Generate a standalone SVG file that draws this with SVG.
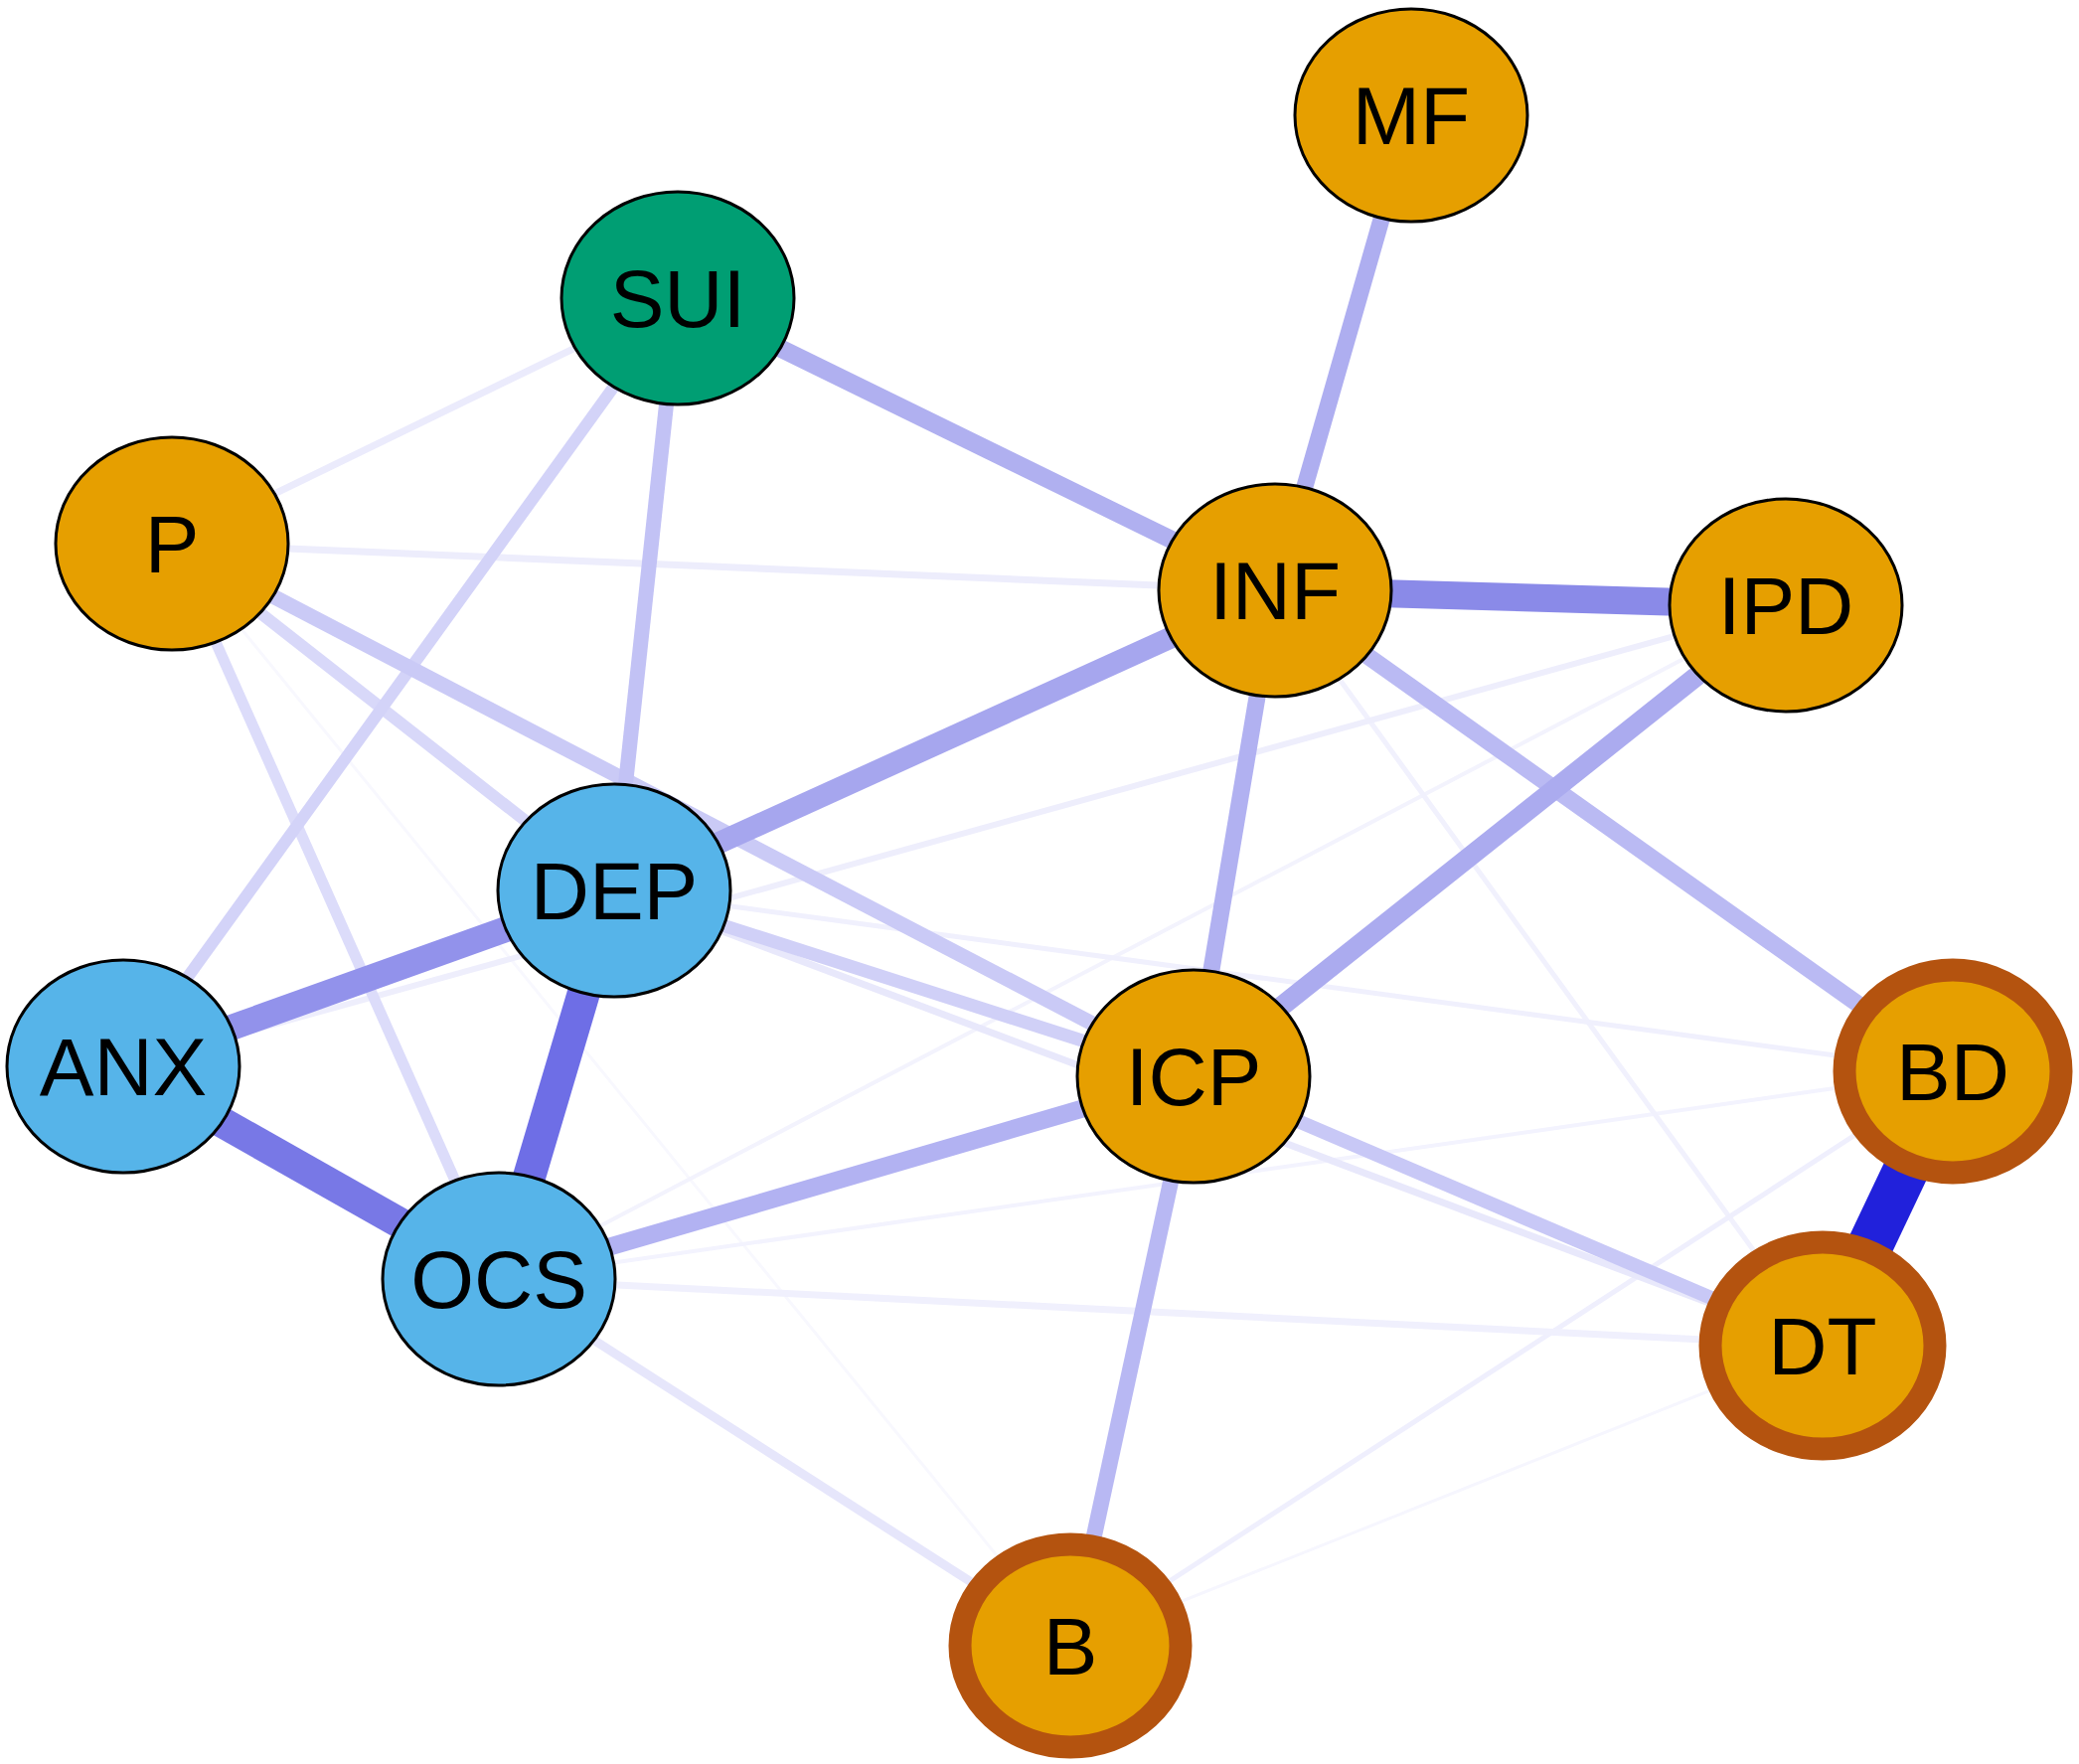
<svg xmlns="http://www.w3.org/2000/svg" width="2092" height="1775" viewBox="0 0 2092 1775">
<style>
.e{fill:none;stroke-linecap:butt}
.n{stroke:#000;stroke-width:3}
.t{font-family:"Liberation Sans",Arial,Helvetica,sans-serif;font-size:82px;fill:#000;text-anchor:middle}
.o{fill:#E69F00}
.g{fill:#009E73}
.b{fill:#56B4E9}
.r{fill:#E69F00;stroke:#B4530F;stroke-width:23}
</style>
<rect width="2092" height="1775" fill="#fff"/>
<g id="edges">
<line class="e" x1="173" y1="547" x2="1077" y2="1656" stroke="#F8F8FE" stroke-width="3"/>
<line class="e" x1="1077" y1="1656" x2="1834" y2="1354" stroke="#F6F6FE" stroke-width="3"/>
<line class="e" x1="502" y1="1287" x2="1965" y2="1078" stroke="#F3F3FE" stroke-width="4"/>
<line class="e" x1="1797" y1="609" x2="502" y2="1287" stroke="#F3F3FD" stroke-width="4"/>
<line class="e" x1="1283" y1="594" x2="1834" y2="1354" stroke="#F1F1FD" stroke-width="5"/>
<line class="e" x1="1077" y1="1656" x2="1965" y2="1078" stroke="#EFEFFD" stroke-width="5"/>
<line class="e" x1="502" y1="1287" x2="1834" y2="1354" stroke="#F0F0FD" stroke-width="7"/>
<line class="e" x1="618" y1="896" x2="1965" y2="1078" stroke="#F0F0FD" stroke-width="5"/>
<line class="e" x1="124" y1="1073" x2="1797" y2="609" stroke="#EEEEFC" stroke-width="6"/>
<line class="e" x1="618" y1="896" x2="1834" y2="1354" stroke="#E8E8FB" stroke-width="7"/>
<line class="e" x1="173" y1="547" x2="1283" y2="594" stroke="#EDEDFC" stroke-width="7"/>
<line class="e" x1="682" y1="300" x2="173" y2="547" stroke="#EBEBFC" stroke-width="7"/>
<line class="e" x1="502" y1="1287" x2="1077" y2="1656" stroke="#E6E6FB" stroke-width="9"/>
<line class="e" x1="173" y1="547" x2="502" y2="1287" stroke="#DCDCFA" stroke-width="11"/>
<line class="e" x1="173" y1="547" x2="618" y2="896" stroke="#D8D8F9" stroke-width="12"/>
<line class="e" x1="682" y1="300" x2="124" y2="1073" stroke="#D3D3F8" stroke-width="12"/>
<line class="e" x1="618" y1="896" x2="1201" y2="1083" stroke="#D0D0F7" stroke-width="13"/>
<line class="e" x1="1201" y1="1083" x2="1834" y2="1354" stroke="#C8C8F6" stroke-width="14"/>
<line class="e" x1="173" y1="547" x2="1201" y2="1083" stroke="#CACAF6" stroke-width="15"/>
<line class="e" x1="682" y1="300" x2="618" y2="896" stroke="#C2C2F5" stroke-width="15"/>
<line class="e" x1="1201" y1="1083" x2="1077" y2="1656" stroke="#B8B8F3" stroke-width="16"/>
<line class="e" x1="1283" y1="594" x2="1965" y2="1078" stroke="#BABAF3" stroke-width="17"/>
<line class="e" x1="502" y1="1287" x2="1201" y2="1083" stroke="#B2B2F2" stroke-width="18"/>
<line class="e" x1="1283" y1="594" x2="1201" y2="1083" stroke="#B1B1F1" stroke-width="17"/>
<line class="e" x1="1420" y1="116" x2="1283" y2="594" stroke="#AEAEF0" stroke-width="17"/>
<line class="e" x1="682" y1="300" x2="1283" y2="594" stroke="#B0B0F0" stroke-width="18"/>
<line class="e" x1="1797" y1="609" x2="1201" y2="1083" stroke="#ABABEF" stroke-width="20"/>
<line class="e" x1="1283" y1="594" x2="618" y2="896" stroke="#A6A6EE" stroke-width="22"/>
<line class="e" x1="124" y1="1073" x2="618" y2="896" stroke="#9292EB" stroke-width="26"/>
<line class="e" x1="1283" y1="594" x2="1797" y2="609" stroke="#8A8AE8" stroke-width="28"/>
<line class="e" x1="124" y1="1073" x2="502" y2="1287" stroke="#7878E6" stroke-width="31"/>
<line class="e" x1="618" y1="896" x2="502" y2="1287" stroke="#6E6EE6" stroke-width="33"/>
<line class="e" x1="1965" y1="1078" x2="1834" y2="1354" stroke="#2121DB" stroke-width="46"/>
</g>
<g id="node-MF"><ellipse class="n o" cx="1420" cy="116" rx="117" ry="107"/><text class="t" x="1420" y="145">MF</text></g>
<g id="node-SUI"><ellipse class="n g" cx="682" cy="300" rx="117" ry="107"/><text class="t" x="682" y="329">SUI</text></g>
<g id="node-P"><ellipse class="n o" cx="173" cy="547" rx="117" ry="107"/><text class="t" x="173" y="576">P</text></g>
<g id="node-INF"><ellipse class="n o" cx="1283" cy="594" rx="117" ry="107"/><text class="t" x="1283" y="623">INF</text></g>
<g id="node-IPD"><ellipse class="n o" cx="1797" cy="609" rx="117" ry="107"/><text class="t" x="1797" y="638">IPD</text></g>
<g id="node-DEP"><ellipse class="n b" cx="618" cy="896" rx="117" ry="107"/><text class="t" x="618" y="925">DEP</text></g>
<g id="node-ANX"><ellipse class="n b" cx="124" cy="1073" rx="117" ry="107"/><text class="t" x="124" y="1102">ANX</text></g>
<g id="node-ICP"><ellipse class="n o" cx="1201" cy="1083" rx="117" ry="107"/><text class="t" x="1201" y="1112">ICP</text></g>
<g id="node-OCS"><ellipse class="n b" cx="502" cy="1287" rx="117" ry="107"/><text class="t" x="502" y="1316">OCS</text></g>
<g id="node-BD"><ellipse class="r" cx="1965" cy="1078" rx="109" ry="102"/><text class="t" x="1965" y="1107">BD</text></g>
<g id="node-DT"><ellipse class="r" cx="1834" cy="1354" rx="113" ry="104"/><text class="t" x="1834" y="1383">DT</text></g>
<g id="node-B"><ellipse class="r" cx="1077" cy="1656" rx="111" ry="102"/><text class="t" x="1077" y="1685">B</text></g>
</svg>
